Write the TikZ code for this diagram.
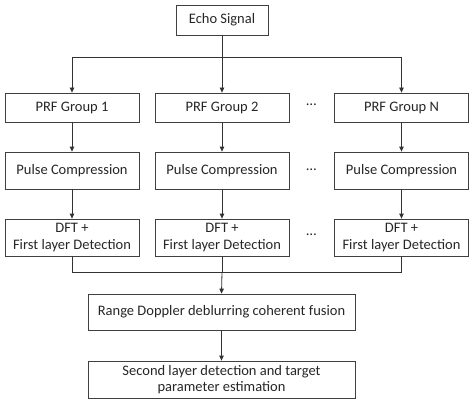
\documentclass[tikz,border=0pt]{standalone}
\usepackage{fontspec}
\setmainfont{Carlito}
\usetikzlibrary{arrows.meta}
\begin{document}
\begin{tikzpicture}[x=1pt,y=-1pt,
  box/.style={draw=black!75,line width=0.8pt,inner sep=0pt,align=center,font=\fontsize{14.5}{16.5}\selectfont,text=black!85},
  arr/.style={draw=black!80,line width=0.8pt,-{Triangle[length=5pt,width=4.5pt]}},
  ln/.style={draw=black!80,line width=0.8pt},
  dots/.style={font=\fontsize{14.5}{16.5}\selectfont,text=black!85}]
\useasboundingbox (0,0) rectangle (474,404);
\node[box,minimum width=92pt,minimum height=30pt] (echo) at (222,20) {Echo Signal};
\foreach \c/\x/\n in {1/72/1,2/222/2,3/401.5/N}{
  \node[box,minimum width=134pt,minimum height=29pt] (prf\c) at (\x,107.5) {PRF Group \n};
  \node[box,minimum width=134pt,minimum height=37pt] (pc\c) at (\x,170.5) {Pulse Compression};
  \node[box,minimum width=134pt,minimum height=37pt] (dft\c) at (\x,237.5) {DFT +\\First layer Detection};
}
\node[dots] (d1) at (311.5,105) {…};
\node[dots] (d2) at (311.5,170) {…};
\node[dots] (d3) at (311.5,235) {…};
\node[box,minimum width=267pt,minimum height=36pt] (rd) at (221.5,312) {Range Doppler deblurring coherent fusion};
\node[box,minimum width=267pt,minimum height=37pt] (sl) at (221.5,379.5) {Second layer detection and target\\parameter estimation};
\coordinate (split) at (222,57);
\coordinate (merge) at (222,272);
\draw[ln] (echo.south) -- (split);
\draw[ln] (prf1.north |- split) -- (prf3.north |- split);
\foreach \c in {1,2,3}{
  \draw[arr] (prf\c.north |- split) -- (prf\c.north);
  \draw[arr] (prf\c) -- (pc\c);
  \draw[arr] (pc\c) -- (dft\c);
  \draw[ln] (dft\c.south) -- (dft\c.south |- merge);
}
\draw[ln] (dft1.south |- merge) -- (dft3.south |- merge);
\draw[arr] (merge) -- (rd.north);
\draw[arr] (rd) -- (sl);
\end{tikzpicture}
\end{document}
